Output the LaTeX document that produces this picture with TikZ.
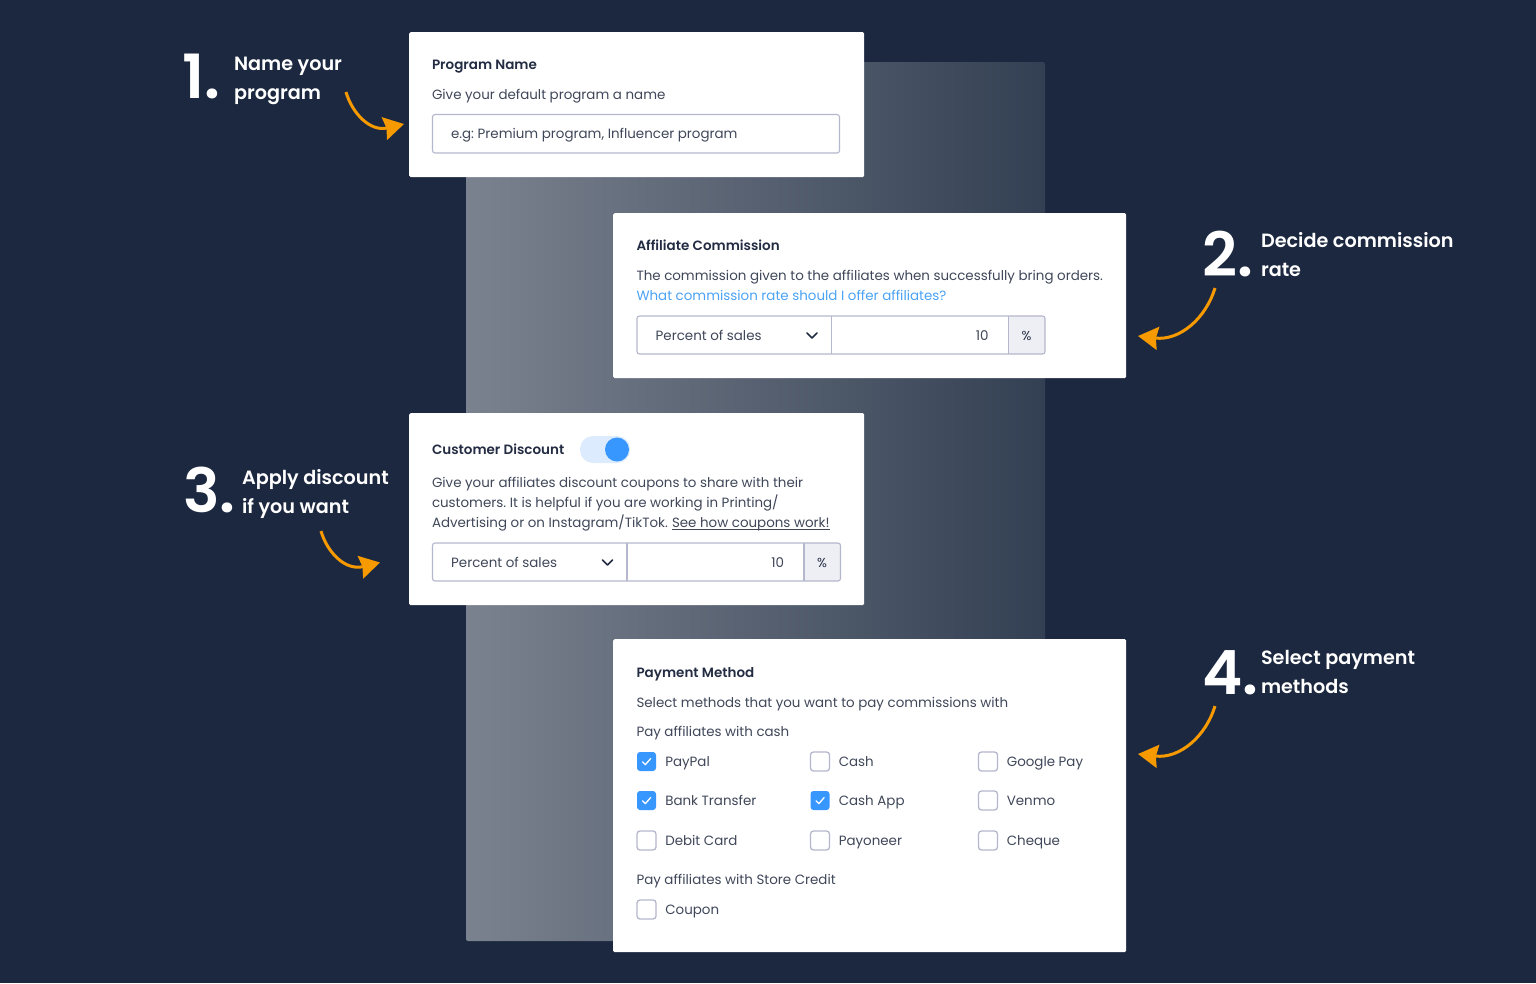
\documentclass[tikz,border=0pt]{standalone}
\usepackage{fontspec}
\setmainfont{Poppins}[BoldFont={Poppins SemiBold}]
\usetikzlibrary{arrows.meta}
\definecolor{bgnavy}{HTML}{1C2840}
\definecolor{inktext}{HTML}{3F4759}
\definecolor{inkhead}{HTML}{232C42}
\definecolor{fieldline}{HTML}{B5B7CC}
\definecolor{addon}{HTML}{EDEFF5}
\definecolor{bluea}{HTML}{3797FF}
\definecolor{bluelink}{HTML}{4BA3F5}
\definecolor{toggle}{HTML}{DCEBFD}
\definecolor{orangea}{HTML}{F79A00}
\definecolor{panell}{HTML}{7B828F}
\definecolor{panelm}{HTML}{525C6D}
\definecolor{panelr}{HTML}{334053}
\tikzset{
 x=1pt,y=-1pt,
 cardbox/.style={fill=white,rounded corners=1.5pt,draw=none},
 txt/.style={anchor=base west,inner sep=0pt,outer sep=0pt,text=inktext,font=\fontsize{13.42}{14}\selectfont\frenchspacing},
 head/.style={anchor=base west,inner sep=0pt,outer sep=0pt,text=inkhead,font=\fontsize{13.5}{14}\selectfont\bfseries},
 steplabel/.style={anchor=base west,inner sep=0pt,outer sep=0pt,text=white,font=\fontsize{19.2}{20}\selectfont\bfseries},
 stepnum/.style={anchor=base west,inner sep=0pt,outer sep=0pt,text=white,font=\fontsize{61}{61}\selectfont\bfseries},
 field/.style={draw=fieldline,line width=1.1pt,rounded corners=2.5pt,fill=white},
 sep/.style={draw=fieldline,line width=1.6pt},
 orangearrow/.style={draw=orangea,line width=3pt,-{Stealth[length=20pt,width=23pt,inset=2pt]}},
 chev/.style={draw=inkhead,line width=1.5pt,line cap=round,line join=round},
 tick/.style={draw=white,line width=1.3pt,line cap=round,line join=round},
}
% x y label checked(0/1)
\newcommand{\chkbox}[4]{%
 \ifnum#4=1
  \fill[bluea,rounded corners=3pt] (#1,#2) rectangle ++(19,19);
  \draw[tick] (#1+5.5,#2+9.8) -- (#1+8.4,#2+12.6) -- (#1+13.6,#2+6.6);
 \else
  \draw[fieldline,line width=1.3pt,fill=white,rounded corners=3pt] (#1,#2) rectangle ++(19,19);
 \fi
 \node[txt] at (#1+28.3,#2+14.5) {#3};}
% x (left) y (top) width of selector etc.
\newcommand{\fieldrow}[2]{%
 \fill[addon,rounded corners=2.5pt] (#1+371,#2) rectangle ++(37,38);
 \draw[field,fill=none] (#1,#2) rectangle ++(408,38);
 \draw[sep] (#1+194.5,#2) -- ++(0,38);
 \draw[sep] (#1+371.5,#2) -- ++(0,38);
 \node[txt] at (#1+18.7,#2+24) {Percent of sales};
 \draw[chev] (#1+170,#2+17) -- (#1+175,#2+22) -- (#1+180,#2+17);
 \node[txt,anchor=base east] at (#1+351.5,#2+24) {10};
 \node[txt,anchor=base,font=\fontsize{13}{13}\selectfont,text=inkhead] at (#1+389.5,#2+24) {\%};}
\begin{document}
\begin{tikzpicture}
\useasboundingbox (0,0) rectangle (1536,983);
\fill[bgnavy] (0,0) rectangle (1536,983);
\shade[left color=panell,middle color=panelm,right color=panelr,rounded corners=2pt] (466,62) rectangle (1045,941);

% Card 1
\node[cardbox,minimum width=455pt,minimum height=145pt,inner sep=0pt,anchor=north west] (card1) at (409,32) {};
\node[head] (h1) at (432,69) {Program Name};
\node[txt] (t1) at (432,99) {Give your default program a name};
\draw[field] (432.5,114.5) rectangle (839.5,153);
\node[txt] (p1) at (451,138.5) {e.g: Premium program, Influencer program};

% Card 2
\node[cardbox,minimum width=513pt,minimum height=165pt,inner sep=0pt,anchor=north west] (card2) at (613,213) {};
\node[head] (h2) at (636.5,250.5) {Affiliate Commission};
\node[txt] (t2) at (636.5,280.5) {The commission given to the affiliates when successfully bring orders.};
\node[txt,text=bluelink] (l2) at (636.5,300.5) {What commission rate should I offer affiliates?};
\fieldrow{637}{316}

% Card 3
\node[cardbox,minimum width=455pt,minimum height=192pt,inner sep=0pt,anchor=north west] (card3) at (409,413) {};
\node[head] (h3) at (432,454) {Customer Discount};
\fill[toggle,rounded corners=13pt] (580,436) rectangle (630,463);
\fill[bluea] (617,449.5) circle (12);
\node[txt] (t3a) at (432,487) {Give your affiliates discount coupons to share with their};
\node[txt] (t3b) at (432,507) {customers. It is helpful if you are working in Printing/};
\node[txt] (t3c) at (432,527) {Advertising or on Instagram/TikTok.};
\node[txt] (t3d) at (672,527) {See how coupons work!};
\draw[inktext,line width=0.9pt] ([yshift=-2.2pt]t3d.base west) -- ([yshift=-2.2pt]t3d.base east);
\fieldrow{432.5}{543}

% Card 4
\node[cardbox,minimum width=513pt,minimum height=313pt,inner sep=0pt,anchor=north west] (card4) at (613,639) {};
\node[head] (h4) at (636.5,677) {Payment Method};
\node[txt] (t4) at (636.5,707) {Select methods that you want to pay commissions with};
\node[txt] (t4b) at (636.5,736.5) {Pay affiliates with cash};
\chkbox{637}{752}{PayPal}{1}
\chkbox{810.5}{752}{Cash}{0}
\chkbox{978.5}{752}{Google Pay}{0}
\chkbox{637}{791}{Bank Transfer}{1}
\chkbox{810.5}{791}{Cash App}{1}
\chkbox{978.5}{791}{Venmo}{0}
\chkbox{637}{831}{Debit Card}{0}
\chkbox{810.5}{831}{Payoneer}{0}
\chkbox{978.5}{831}{Cheque}{0}
\node[txt] (t4c) at (636.5,884.5) {Pay affiliates with Store Credit};
\chkbox{637}{900}{Coupon}{0}

% Step labels
\node[stepnum] (n1) at (182.5,98) {1.};
\node[steplabel] (s1a) at (234,70.5) {Name your};
\node[steplabel] (s1b) at (234,99.5) {program};
\node[stepnum] (n2) at (1202,276) {2.};
\node[steplabel] (s2a) at (1261,247) {Decide commission};
\node[steplabel] (s2b) at (1261,276) {rate};
\node[stepnum] (n3) at (183,512) {3.};
\node[steplabel] (s3a) at (242,484.5) {Apply discount};
\node[steplabel] (s3b) at (242,513.5) {if you want};
\node[stepnum] (n4) at (1202.5,694) {4.};
\node[steplabel] (s4a) at (1261,664.5) {Select payment};
\node[steplabel] (s4b) at (1261,693.5) {methods};

% Arrows
\coordinate (a1s) at (346,92); \coordinate (a1e) at (404,124);
\coordinate (a2s) at (1215,288); \coordinate (a2e) at (1138,336);
\coordinate (a3s) at (321,531); \coordinate (a3e) at (380,562.5);
\coordinate (a4s) at (1215,706); \coordinate (a4e) at (1138,754);
\draw[orangearrow] (a1s) .. controls (352,113) and (370,132) .. (a1e);
\draw[orangearrow] (a3s) .. controls (327,552) and (345,571) .. (a3e);
\draw[orangearrow] (a2s) .. controls (1206,318) and (1180,341) .. (a2e);
\draw[orangearrow] (a4s) .. controls (1206,736) and (1180,759) .. (a4e);
\end{tikzpicture}
\end{document}
